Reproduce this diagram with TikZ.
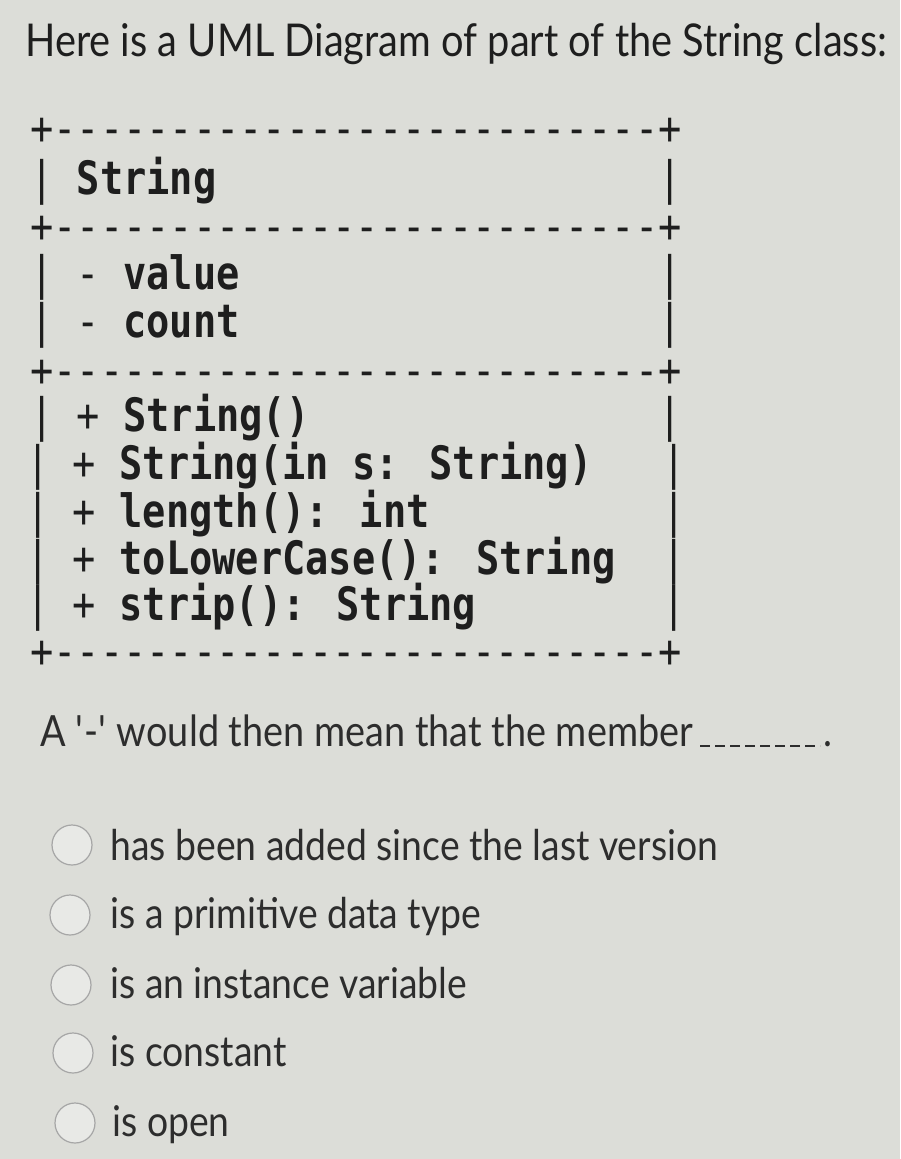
\documentclass[tikz,border=0pt]{standalone}
\usepackage{fontspec}
\setmainfont{Lato}[FakeStretch=0.88]
\newfontfamily\umlfont{DejaVu Sans Mono}[FakeStretch=0.84, Ligatures=TeXOff]
\definecolor{screen}{RGB}{220,221,216}
\definecolor{ink}{RGB}{30,30,30}
\definecolor{softink}{RGB}{45,45,45}
\tikzset{
	umlrow/.style={anchor=base, inner sep=0pt, text=ink, font=\umlfont\fontsize{23}{27}\selectfont},
	qtext/.style={anchor=base west, inner sep=0pt, text=softink, font=\fontsize{21.5}{25}\selectfont},
	answer/.style={qtext, font=\fontsize{21.2}{25}\selectfont},
	radio/.style={circle, draw=gray!70, fill=white!35!screen, line width=0.6pt, minimum size=20pt, inner sep=0pt},
}

\begin{document}
\begin{tikzpicture}[x=0.5pt, y=-0.5pt]
	\fill[screen] (0,0) rectangle (900,1159);
	% heading
	\node[qtext, text=ink, font=\fontsize{22.6}{28}\selectfont] (title) at (25,57) {Here is a UML Diagram of part of the String class:};
	% the class box, written as plain text
	\node[umlrow] (top) at (356,145) {+--------------------------+};
	\node[umlrow] (name) at (356,195) {|~\textbf{String}~~~~~~~~~~~~~~~~~~~|};
	\node[umlrow] (sep1) at (356,243) {+--------------------------+};
	\node[umlrow] (value) at (356,290) {|~-~\textbf{value}~~~~~~~~~~~~~~~~~~|};
	\node[umlrow] (count) at (356,338) {|~-~\textbf{count}~~~~~~~~~~~~~~~~~~|};
	\node[umlrow] (sep2) at (356,387) {+--------------------------+};
	\node[umlrow] (ctor) at (356,432) {|~+~\textbf{String()}~~~~~~~~~~~~~~~|};
	\node[umlrow] (ctors) at (356,480) {|~+~\textbf{String(in s: String)}~~~|};
	\node[umlrow] (len) at (356,527) {|~+~\textbf{length(): int}~~~~~~~~~~|};
	\node[umlrow] (lower) at (356,574) {|~+~\textbf{toLowerCase(): String}~~|};
	\node[umlrow] (strip) at (356,620) {|~+~\textbf{strip(): String}~~~~~~~~|};
	\node[umlrow] (bottom) at (356,667) {+--------------------------+};
	% question
	\node[qtext] (ask) at (40,746) {A \textquotesingle-\textquotesingle{} would then mean that the member};
	\coordinate (blankA) at (700,746);
	\coordinate (blankB) at (820,746);
	\draw[softink, line width=1pt, dash pattern=on 5pt off 2.5pt] (blankA) -- (blankB);
	\node[qtext] (dot) at (823,746) {.};
	% answers
	\node[radio] (r1) at (72,845) {};
	\node[radio] (r2) at (70,915) {};
	\node[radio] (r3) at (71,985) {};
	\node[radio] (r4) at (73,1053) {};
	\node[radio] (r5) at (75,1123) {};
	\node[answer] (a1) at (110,860) {has been added since the last version};
	\node[answer] (a2) at (110,928) {is a primitive data type};
	\node[answer] (a3) at (110,998) {is an instance variable};
	\node[answer] (a4) at (110,1066) {is constant};
	\node[answer] (a5) at (112,1136) {is open};
\end{tikzpicture}
\end{document}
